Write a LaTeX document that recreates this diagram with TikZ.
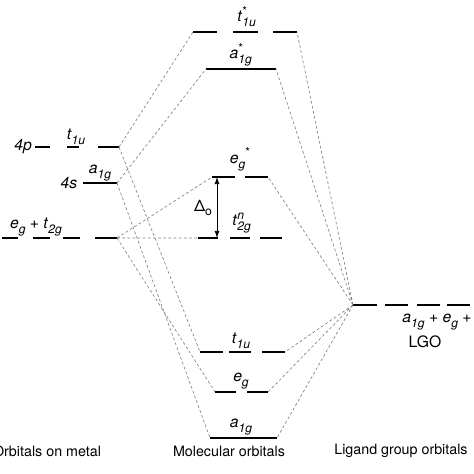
\documentclass[tikz,border=0pt]{standalone}
\usepackage{fontspec}
\setmainfont{TeX Gyre Heros}
\usetikzlibrary{arrows.meta}
\newcommand{\sz}{\fontsize{8.5}{9}\selectfont}
\newcommand{\orb}[2]{\textit{#1}\raisebox{-0.55ex}{\sz\itshape #2}}
\newcommand{\orbx}[3]{\textit{#1}\ensuremath{_{\mbox{\sz\itshape #2}}^{\mbox{\sz #3}}}}
\tikzset{
  orbline/.style={line width=0.9pt},
  tie/.style={gray, line width=0.45pt, dash pattern=on 2pt off 1.6pt},
  lab/.style={inner sep=1pt, font=\fontsize{11}{13}\selectfont},
}
\begin{document}
\begin{tikzpicture}[x=0.7pt,y=-0.7pt]
\useasboundingbox (0,0) rectangle (474,474);

\coordinate (m4p) at (119,147);
\coordinate (m4s) at (117,183);
\coordinate (m3d) at (117,238);
\draw[orbline] (35,147) -- (50,147) (67,147) -- (79,147) (98,147) -- (m4p);
\draw[orbline] (83,183) -- (m4s);
\draw[orbline] (2,238) -- (18,238) (33,238) -- (50,238) (63,238) -- (80,238) (95,238) -- (m3d);
\node[lab] (l4p) at (23,147) {\textit{4p}};
\node[lab] (lt1u) at (76,137) {\orb{t}{1u}};
\node[lab] (l4s) at (69,183) {\textit{4s}};
\node[lab] (la1g) at (100,173) {\orb{a}{1g}};
\node[lab] (legt2g) at (36,227) {\orb{e}{g} + \orb{t}{2g}};

\coordinate (t1usL) at (193,32);  \coordinate (t1usR) at (297,32);
\coordinate (a1gsL) at (206,69);  \coordinate (a1gsR) at (276,69);
\coordinate (egsL) at (212,177);  \coordinate (egsR) at (268,177);
\coordinate (t2gL) at (198,238);
\coordinate (t1uL) at (200,352);  \coordinate (t1uR) at (285,352);
\coordinate (egL) at (215,392);   \coordinate (egR) at (268,392);
\coordinate (a1gL) at (210,438);  \coordinate (a1gR) at (277,438);
\draw[orbline] (t1usL) -- (217,32) (233,32) -- (258,32) (273,32) -- (t1usR);
\draw[orbline] (a1gsL) -- (a1gsR);
\draw[orbline] (egsL) -- (235,177) (245,177) -- (egsR);
\draw[orbline] (t2gL) -- (218,238) (230,238) -- (250,238) (260,238) -- (282,238);
\draw[orbline] (t1uL) -- (223,352) (229,352) -- (251,352) (262,352) -- (t1uR);
\draw[orbline] (egL) -- (236,392) (247,392) -- (egR);
\draw[orbline] (a1gL) -- (a1gR);
\node[lab] (lt1us) at (247,17) {\orbx{t}{1u}{*}};
\node[lab] (la1gs) at (241,55) {\orbx{a}{1g}{*}};
\node[lab] (legs) at (240,159) {\orb{e}{g}\raisebox{0.9ex}{\sz *}};
\node[lab] (lt2g) at (242,223) {\orbx{t}{2g}{\itshape n}};
\node[lab] (lt1u2) at (241,341) {\orb{t}{1u}};
\node[lab] (leg) at (241,381) {\orb{e}{g}};
\node[lab] (la1g2) at (241,427) {\orb{a}{1g}};

\coordinate (dtop) at (217,177);
\coordinate (dbot) at (217,238);
\draw[{Latex[length=5pt,width=3.5pt]}-{Latex[length=5pt,width=3.5pt]}, line width=0.6pt] (dtop) -- (dbot);
\node[lab] (ldelta) at (203,208) {Δ\raisebox{-0.5ex}{\sz o}};

\coordinate (lgo) at (353,305);
\draw[orbline] (lgo) -- (377,305) (385,305) -- (408,305) (417,305) -- (440,305) (447,305) -- (470,305);
\node[lab] (lsalc) at (437,322) {\orb{a}{1g} + \orb{e}{g} +};
\node[lab] (llgo) at (425,342) {LGO};

\draw[tie] (m4p) -- (t1usL) (m4p) -- (t1uL);
\draw[tie] (m4s) -- (a1gsL) (m4s) -- (a1gL);
\draw[tie] (m3d) -- (egsL) (m3d) -- (t2gL) (m3d) -- (egL);
\draw[tie] (lgo) -- (t1usR) (lgo) -- (a1gsR) (lgo) -- (egsR);
\draw[tie] (lgo) -- (t1uR) (lgo) -- (egR) (lgo) -- (a1gR);

\node[anchor=east] (metal) at (106,451) {Orbitals on metal};
\node (molec) at (229,451) {Molecular orbitals};
\node (ligand) at (401,451) {Ligand group orbitals};
\end{tikzpicture}
\end{document}
